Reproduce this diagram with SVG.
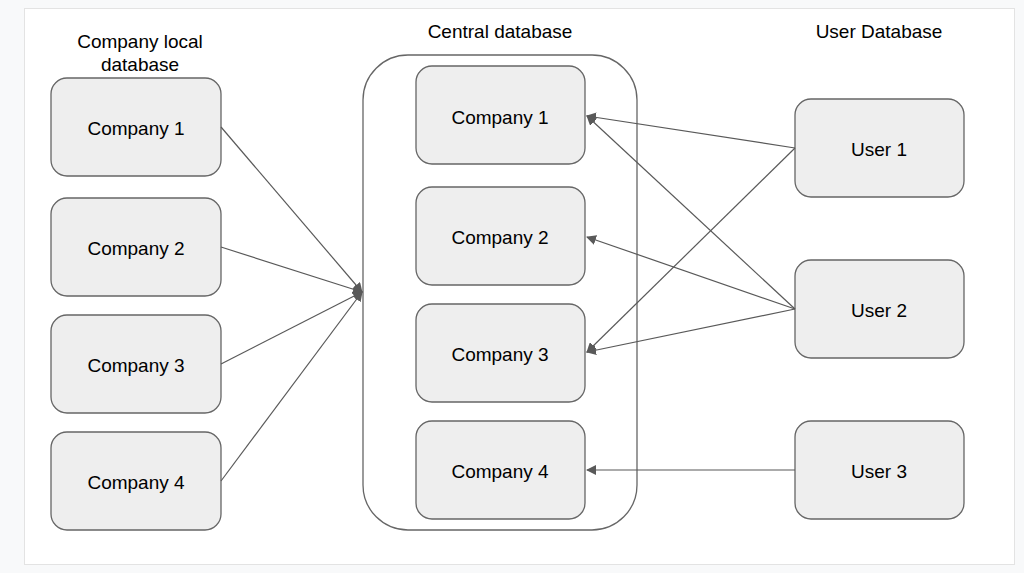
<svg xmlns="http://www.w3.org/2000/svg" width="1024" height="573" viewBox="0 0 1024 573">
<style>
.n{fill:#eeeeee;stroke:#666666;stroke-width:1.3}
.t{font-family:"Liberation Sans",Arial,sans-serif;font-size:19px;fill:#000;text-anchor:middle;dominant-baseline:central}
.c{stroke:#595959;stroke-width:1.2;fill:none;marker-end:url(#a)}
</style>
<defs>
<marker id="a" viewBox="0 0 10 10" refX="9" refY="5" markerWidth="10" markerHeight="10" markerUnits="userSpaceOnUse" orient="auto">
<path d="M0,0 L10,5 L0,10 z" fill="#595959"/>
</marker>
</defs>
<rect width="1024" height="573" fill="#f8f9fa"/>
<rect x="24.5" y="8.5" width="990" height="556" fill="#fff" stroke="#e3e3e3"/>
<g id="titles">
<text class="t" x="140" y="41">Company local</text>
<text class="t" x="140" y="64">database</text>
<text class="t" x="500" y="31">Central database</text>
<text class="t" x="879" y="31">User Database</text>
</g>
<g id="central">
<rect x="363" y="55" width="274" height="475" rx="45" fill="#fff" stroke="#666" stroke-width="1.3"/>
</g>
<g id="local1"><rect class="n" x="51" y="78" width="170" height="98" rx="16"/><text class="t" x="136" y="128">Company 1</text></g>
<g id="local2"><rect class="n" x="51" y="198" width="170" height="98" rx="16"/><text class="t" x="136" y="248">Company 2</text></g>
<g id="local3"><rect class="n" x="51" y="315" width="170" height="98" rx="16"/><text class="t" x="136" y="365">Company 3</text></g>
<g id="local4"><rect class="n" x="51" y="432" width="170" height="98" rx="16"/><text class="t" x="136" y="482">Company 4</text></g>
<g id="central1"><rect class="n" x="416" y="66" width="169" height="98" rx="16"/><text class="t" x="500" y="117">Company 1</text></g>
<g id="central2"><rect class="n" x="416" y="187" width="169" height="98" rx="16"/><text class="t" x="500" y="237">Company 2</text></g>
<g id="central3"><rect class="n" x="416" y="304" width="169" height="98" rx="16"/><text class="t" x="500" y="354">Company 3</text></g>
<g id="central4"><rect class="n" x="416" y="421" width="169" height="98" rx="16"/><text class="t" x="500" y="471">Company 4</text></g>
<g id="user1"><rect class="n" x="795" y="99" width="169" height="98" rx="16"/><text class="t" x="879" y="149">User 1</text></g>
<g id="user2"><rect class="n" x="795" y="260" width="169" height="98" rx="16"/><text class="t" x="879" y="310">User 2</text></g>
<g id="user3"><rect class="n" x="795" y="421" width="169" height="98" rx="16"/><text class="t" x="879" y="471">User 3</text></g>
<g id="connectors">
<line class="c" x1="221" y1="127" x2="362" y2="292"/>
<line class="c" x1="221" y1="247" x2="362" y2="292"/>
<line class="c" x1="221" y1="364" x2="362" y2="292"/>
<line class="c" x1="221" y1="481" x2="362" y2="292"/>
<line class="c" x1="795" y1="148" x2="587" y2="116"/>
<line class="c" x1="795" y1="148" x2="587" y2="352"/>
<line class="c" x1="795" y1="309" x2="587" y2="116"/>
<line class="c" x1="795" y1="309" x2="587" y2="237"/>
<line class="c" x1="795" y1="309" x2="587" y2="352"/>
<line class="c" x1="795" y1="470" x2="587" y2="470"/>
</g>
</svg>
